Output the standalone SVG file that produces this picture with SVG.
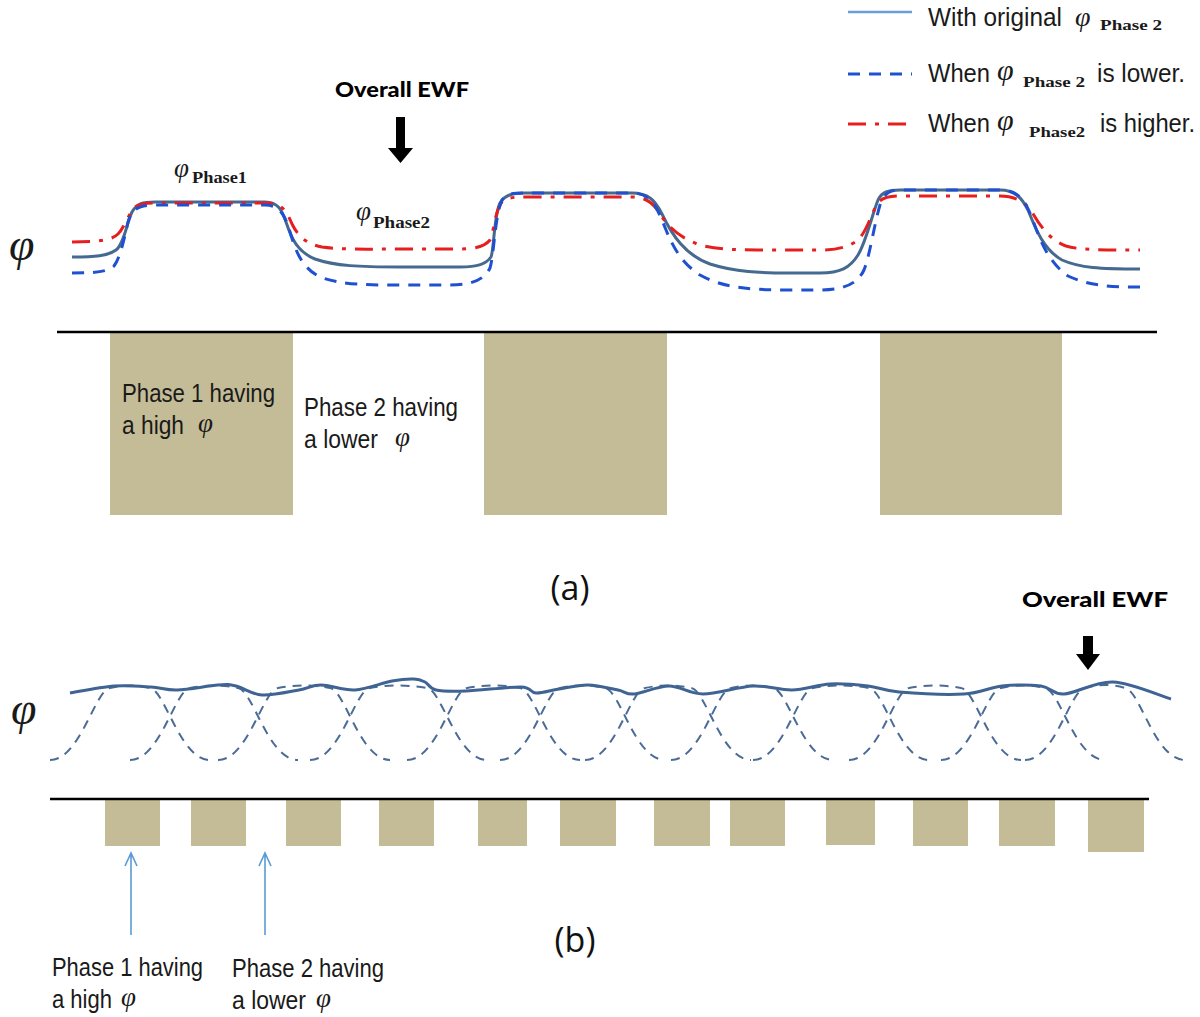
<svg xmlns="http://www.w3.org/2000/svg" width="1200" height="1017" viewBox="0 0 1200 1017">
<defs>
<style>
.lbl{font-family:"Liberation Sans",Arial,sans-serif;font-size:25px;fill:#1a1a1a}
.phi{font-family:"Liberation Serif","Times New Roman",serif;font-style:italic;fill:#1a1a1a}
.sub{font-family:"Liberation Serif","Times New Roman",serif;font-weight:bold;fill:#1a1a1a}
.ewf{font-family:"Lato","Noto Sans",sans-serif;font-weight:900;font-size:20px;fill:#000}
.cap{font-family:"Open Sans","Noto Sans",sans-serif;font-size:34px;fill:#111}
.box{fill:#c4bc96}
.base{stroke:#000;stroke-width:2.5;fill:none}
.orig{stroke:#46698f;stroke-width:3;fill:none}
.low{stroke:#1f50d0;stroke-width:3;fill:none;stroke-dasharray:12 9}
.high{stroke:#e61e1e;stroke-width:3;fill:none;stroke-dasharray:18 9 4 9}
.bsol{stroke:#3f6494;stroke-width:3;fill:none;stroke-linejoin:round}
.bdash{stroke:#4a6b96;stroke-width:2;fill:none;stroke-dasharray:9 7}
.uparr{stroke:#5b9bd5;stroke-width:1.6;fill:none}
</style>
</defs>

<g id="legend">
<line x1="848" y1="12" x2="912" y2="12" stroke="#6a9fd8" stroke-width="2.5"/>
<line x1="848" y1="74" x2="912" y2="74" class="low"/>
<line x1="848" y1="124" x2="912" y2="124" class="high"/>
<text x="928" y="26" class="lbl" font-size="26" textLength="134" lengthAdjust="spacingAndGlyphs">With original</text>
<text x="1075" y="26" class="phi" font-size="28">φ</text>
<text x="1100" y="30" class="sub" font-size="15" textLength="62" lengthAdjust="spacingAndGlyphs">Phase 2</text>
<text x="928" y="82" class="lbl" font-size="27" textLength="62" lengthAdjust="spacingAndGlyphs">When</text>
<text x="997" y="80" class="phi" font-size="30">φ</text>
<text x="1023" y="87" class="sub" font-size="15" textLength="62" lengthAdjust="spacingAndGlyphs">Phase 2</text>
<text x="1097" y="82" class="lbl" font-size="27" textLength="88" lengthAdjust="spacingAndGlyphs">is lower.</text>
<text x="928" y="132" class="lbl" font-size="27" textLength="62" lengthAdjust="spacingAndGlyphs">When</text>
<text x="997" y="130" class="phi" font-size="30">φ</text>
<text x="1029" y="137" class="sub" font-size="15" textLength="56" lengthAdjust="spacingAndGlyphs">Phase2</text>
<text x="1100" y="132" class="lbl" font-size="27" textLength="95" lengthAdjust="spacingAndGlyphs">is higher.</text>
</g>

<g id="ewf-a">
<text x="335" y="97" class="ewf" textLength="134" lengthAdjust="spacingAndGlyphs">Overall EWF</text>
<polygon points="396,117 405,117 405,148 413,148 400.5,163 388,148 396,148" fill="#000"/>
</g>

<g id="labels-a">
<text x="9" y="260" class="phi" font-size="46">φ</text>
<text x="174" y="177" class="phi" font-size="27">φ</text>
<text x="192" y="183" class="sub" font-size="17" textLength="55" lengthAdjust="spacingAndGlyphs">Phase1</text>
<text x="356" y="220" class="phi" font-size="27">φ</text>
<text x="373" y="228" class="sub" font-size="17" textLength="57" lengthAdjust="spacingAndGlyphs">Phase2</text>
</g>

<g id="curves-a">
<path class="orig" d="M72,257 C95,257 108,256 116,250 C124,244 127,222 132,212 C137,203 143,202 155,202 L265,202 C278,202 282,210 286,222 C292,240 298,252 315,259 C335,266 360,267 400,267 L460,267 C478,267 486,264 491,257 C494,250 494,215 500,203 C505,195 512,193 525,193 L632,193 C648,193 655,200 662,214 C672,235 685,255 710,264 C735,272 760,273 790,273 L820,273 C840,273 850,268 858,255 C866,242 872,215 878,200 C882,192 888,190 900,190 L1000,190 C1015,190 1022,198 1028,210 C1036,230 1044,250 1062,260 C1080,268 1100,269 1140,269"/>
<path class="high" d="M72,242 C100,242 112,240 118,234 C124,228 128,215 134,208 C138,204 145,203 155,203 L268,203 C282,203 287,212 292,224 C298,236 306,244 322,247 C345,250 370,249 400,249 L460,249 C478,249 486,245 490,240 C494,232 495,210 502,202 C507,197 515,197 530,197 L632,197 C648,197 655,205 662,217 C670,228 680,238 700,245 C720,250 740,250 770,250 L820,250 C840,250 850,246 858,240 C866,232 870,218 876,206 C880,198 888,196 900,196 L1000,196 C1015,196 1025,202 1032,212 C1040,226 1050,240 1066,246 C1080,250 1100,250 1140,250"/>
<path class="low" d="M72,273 C95,273 108,272 114,266 C120,258 124,240 128,222 C132,208 140,205 155,205 L265,205 C280,205 285,215 290,232 C296,252 302,268 320,277 C340,285 370,285 400,285 L450,285 C475,285 485,278 490,268 C494,255 495,215 502,200 C507,193 515,193 525,193 L632,193 C650,193 656,205 664,225 C672,245 680,262 700,275 C725,289 755,290 790,290 L820,290 C845,290 858,283 864,270 C870,255 874,225 880,205 C884,193 890,190 900,190 L1000,190 C1018,190 1025,200 1032,218 C1040,240 1048,262 1068,276 C1090,286 1110,287 1140,287"/>
</g>

<g id="substrate-a">
<rect x="110" y="332" width="183" height="183" class="box"/>
<rect x="484" y="332" width="183" height="183" class="box"/>
<rect x="880" y="332" width="182" height="183" class="box"/>
<line x1="57" y1="332" x2="1157" y2="332" class="base"/>
</g>

<g id="phase-labels-a">
<text x="122" y="402" class="lbl" textLength="153" lengthAdjust="spacingAndGlyphs">Phase 1 having</text>
<text x="122" y="434" class="lbl" textLength="62" lengthAdjust="spacingAndGlyphs">a high</text>
<text x="198" y="432" class="phi" font-size="27">φ</text>
<text x="304" y="416" class="lbl" textLength="154" lengthAdjust="spacingAndGlyphs">Phase 2 having</text>
<text x="304" y="448" class="lbl" textLength="74" lengthAdjust="spacingAndGlyphs">a lower</text>
<text x="395" y="446" class="phi" font-size="27">φ</text>
</g>

<text x="570" y="600" class="cap" text-anchor="middle">(a)</text>

<g id="ewf-b">
<text x="1022" y="607" class="ewf" textLength="146" lengthAdjust="spacingAndGlyphs">Overall EWF</text>
<polygon points="1083,636 1093,636 1093,654 1100,654 1088,670 1076,654 1083,654" fill="#000"/>
</g>

<text x="11" y="724" class="phi" font-size="46">φ</text>

<g id="curves-b">
<path class="bdash" d="M50,760 C80,760 95,690 110,688 Q130,683 150,688 C165,690 180,760 210,760"/>
<path class="bdash" d="M130,760 C160,760 175,690 190,688 Q214,683 238,688 C253,690 268,760 298,760"/>
<path class="bdash" d="M218,760 C248,760 263,690 278,688 Q304,683 330,688 C345,690 360,760 390,760"/>
<path class="bdash" d="M310,760 C340,760 355,690 370,688 Q398,683 427,688 C442,690 457,760 487,760"/>
<path class="bdash" d="M407,760 C437,760 452,690 467,688 Q494,683 520,688 C535,690 550,760 580,760"/>
<path class="bdash" d="M500,760 C530,760 545,690 560,688 Q582,683 605,688 C620,690 635,760 665,760"/>
<path class="bdash" d="M585,760 C615,760 630,690 645,688 Q668,683 691,688 C706,690 721,760 751,760"/>
<path class="bdash" d="M671,760 C701,760 716,690 731,688 Q752,683 773,688 C788,690 803,760 833,760"/>
<path class="bdash" d="M753,760 C783,760 798,690 813,688 Q841,683 869,688 C884,690 899,760 929,760"/>
<path class="bdash" d="M849,760 C879,760 894,690 909,688 Q935,683 961,688 C976,690 991,760 1021,760"/>
<path class="bdash" d="M941,760 C971,760 986,690 1001,688 Q1023,683 1045,688 C1060,690 1075,760 1105,760"/>
<path class="bdash" d="M1025,760 C1055,760 1070,690 1085,688 Q1105,682 1125,688 C1140,690 1155,760 1185,760"/>
<path class="bsol" d="M70,693 C77.3,691.8 100.5,687 114,686 S140.5,686.3 151,687 S165.8,690.3 177,690 S208.2,685.7 218,685 S228.7,684.3 236,686 S251.5,694.3 262,695 S289.2,691.7 299,690 S311.7,685 321,685 S343.2,690.7 355,690 S382.2,682.8 392,681 S408.5,678.8 414,679 S421.3,680.2 425,682 S429.2,688.5 436,690 S451.8,691.5 466,691 S509.3,686.7 521,687 S529.7,692.7 536,693 S550.3,690.3 559,689 S578.2,684.8 588,685 S610.3,688.5 618,690 S625.5,694.7 634,694 S657.5,686 669,686 S689,694 703,694 S738.2,686.7 753,686 S779.2,690.3 792,690 S817.3,684.7 830,684 S856.5,684.7 868,686 S883,690.7 899,692 S946.8,695 964,694 S989.2,687.3 1002,686 S1030.7,684.7 1041,686 S1052,694.7 1064,694 S1095.2,681.2 1113,682 S1161.3,696.2 1171,699"/>
</g>

<g id="substrate-b">
<rect x="105" y="800" width="55" height="46" class="box"/>
<rect x="191" y="800" width="55" height="46" class="box"/>
<rect x="286" y="800" width="55" height="46" class="box"/>
<rect x="379" y="800" width="55" height="46" class="box"/>
<rect x="478" y="800" width="49" height="46" class="box"/>
<rect x="560" y="800" width="56" height="46" class="box"/>
<rect x="654" y="800" width="56" height="46" class="box"/>
<rect x="730" y="800" width="55" height="46" class="box"/>
<rect x="826" y="800" width="49" height="45" class="box"/>
<rect x="913" y="800" width="55" height="46" class="box"/>
<rect x="999" y="800" width="56" height="46" class="box"/>
<rect x="1088" y="800" width="56" height="52" class="box"/>
<line x1="50" y1="799" x2="1149" y2="799" class="base"/>
</g>

<g id="arrows-b">
<path class="uparr" d="M131,935 L131,853 M125,866 L131,853 L137,866"/>
<path class="uparr" d="M265,935 L265,853 M259,866 L265,853 L271,866"/>
</g>

<text x="575" y="952" class="cap" text-anchor="middle">(b)</text>

<g id="phase-labels-b">
<text x="52" y="976" class="lbl" textLength="151" lengthAdjust="spacingAndGlyphs">Phase 1 having</text>
<text x="52" y="1008" class="lbl" textLength="60" lengthAdjust="spacingAndGlyphs">a high</text>
<text x="121" y="1006" class="phi" font-size="27">φ</text>
<text x="232" y="977" class="lbl" textLength="152" lengthAdjust="spacingAndGlyphs">Phase 2 having</text>
<text x="232" y="1009" class="lbl" textLength="74" lengthAdjust="spacingAndGlyphs">a lower</text>
<text x="316" y="1007" class="phi" font-size="27">φ</text>
</g>
</svg>
